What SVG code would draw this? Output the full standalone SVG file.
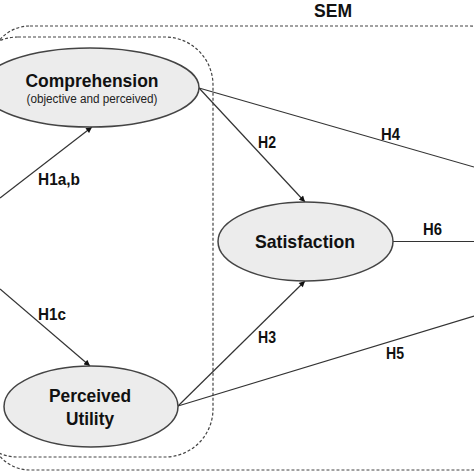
<svg xmlns="http://www.w3.org/2000/svg" width="474" height="474" viewBox="0 0 474 474">
<style>
.bg{fill:#ffffff}
.dash{fill:none;stroke:#444;stroke-width:1.2;stroke-dasharray:3 2}
.node{fill:#ececec;stroke:#444;stroke-width:1.5}
.title{font-family:"Liberation Sans",Arial,sans-serif;font-weight:bold;font-size:19px;fill:#111;text-anchor:middle}
.sub{font-family:"Liberation Sans",Arial,sans-serif;font-size:12.5px;fill:#222;text-anchor:middle}
.lbl{font-family:"Liberation Sans",Arial,sans-serif;font-weight:bold;font-size:16.5px;fill:#111}
.edge{fill:none;stroke:#333;stroke-width:1.2}
</style>
<defs>
<marker id="arr" viewBox="0 0 10 10" refX="10" refY="5" markerWidth="7" markerHeight="6" markerUnits="userSpaceOnUse" orient="auto">
<path d="M0,0 L10,5 L0,10 z" fill="#111"/>
</marker>
</defs>
<rect class="bg" x="0" y="0" width="474" height="474"/>
<g id="sem-box">
<rect class="dash" x="-10" y="26" width="520" height="444" rx="40" ry="40"/>
<rect class="dash" x="-30" y="37" width="243" height="420" rx="48" ry="48"/>
<text class="title" x="333" y="17" textLength="38" lengthAdjust="spacingAndGlyphs">SEM</text>
</g>
<g id="connectors">
<line class="edge" x1="0" y1="198" x2="92" y2="127" marker-end="url(#arr)"/>
<line class="edge" x1="0" y1="289" x2="90" y2="366" marker-end="url(#arr)"/>
<line class="edge" x1="199" y1="88" x2="305" y2="202" marker-end="url(#arr)"/>
<line class="edge" x1="199" y1="88" x2="474" y2="167"/>
<line class="edge" x1="393" y1="241.5" x2="474" y2="241.5"/>
<line class="edge" x1="178" y1="406" x2="305" y2="281" marker-end="url(#arr)"/>
<line class="edge" x1="178" y1="406" x2="474" y2="316"/>
<text class="lbl" x="38" y="185" textLength="42" lengthAdjust="spacingAndGlyphs">H1a,b</text>
<text class="lbl" x="38" y="320" textLength="28" lengthAdjust="spacingAndGlyphs">H1c</text>
<text class="lbl" x="258" y="148" textLength="18" lengthAdjust="spacingAndGlyphs">H2</text>
<text class="lbl" x="258" y="343" textLength="18" lengthAdjust="spacingAndGlyphs">H3</text>
<text class="lbl" x="381" y="140" textLength="19" lengthAdjust="spacingAndGlyphs">H4</text>
<text class="lbl" x="386" y="359" textLength="18" lengthAdjust="spacingAndGlyphs">H5</text>
<text class="lbl" x="423" y="235" textLength="19" lengthAdjust="spacingAndGlyphs">H6</text>
</g>
<g id="comprehension">
<ellipse class="node" cx="90" cy="87.5" rx="109" ry="39.5"/>
<text class="title" x="92" y="87" textLength="133" lengthAdjust="spacingAndGlyphs">Comprehension</text>
<text class="sub" x="92" y="103" textLength="131" lengthAdjust="spacingAndGlyphs">(objective and perceived)</text>
</g>
<g id="satisfaction">
<ellipse class="node" cx="305.5" cy="241.5" rx="87.5" ry="39.5"/>
<text class="title" x="305" y="248" textLength="100" lengthAdjust="spacingAndGlyphs">Satisfaction</text>
</g>
<g id="perceived-utility">
<ellipse class="node" cx="91" cy="406.5" rx="87" ry="40.5"/>
<text class="title" x="90" y="402" textLength="82" lengthAdjust="spacingAndGlyphs">Perceived</text>
<text class="title" x="90" y="425" textLength="48" lengthAdjust="spacingAndGlyphs">Utility</text>
</g>
</svg>
